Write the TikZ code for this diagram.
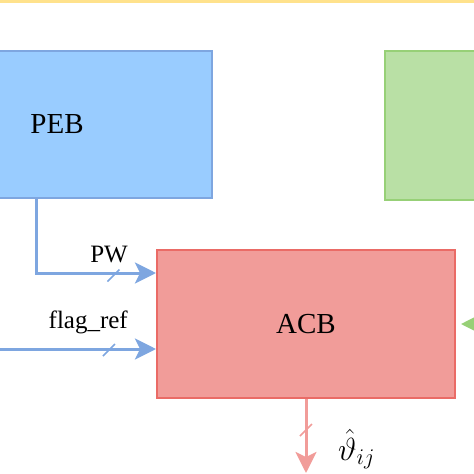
\RequirePackage{fix-cm}
\documentclass[tikz,border=0pt]{standalone}
\usepackage{fontspec}
\setmainfont{Liberation Serif}
\usetikzlibrary{positioning, arrows.meta}
\usepackage{amsmath, amssymb}
\usepackage{xcolor}
\definecolor{pebfill}{HTML}{99CCFF}
\definecolor{pebdraw}{HTML}{7EA6E0}
\definecolor{grnfill}{HTML}{B9E0A5}
\definecolor{grndraw}{HTML}{97D077}
\definecolor{acbfill}{HTML}{F19C99}
\definecolor{acbdraw}{HTML}{EA6B66}
\definecolor{framecol}{HTML}{FFE28C}
\tikzset{block/.style={draw, line width=2pt, minimum width=298pt,
           minimum height=148pt, font=\fontsize{29}{34}\selectfont},
         sig/.style={line width=3pt,
           -{Stealth[length=21pt, width=21pt, inset=5pt]}},
         lbl/.style={font=\fontsize{25}{30}\selectfont, inner sep=0pt}}
\newcommand{\sigtick}[2]{\draw[line width=1.7pt, #1]
  ([shift={(-6pt,-6pt)}]#2) -- ([shift={(6pt,6pt)}]#2);}

\begin{document}
\begin{tikzpicture}[x=1pt, y=-1pt]
        \useasboundingbox (0,0) rectangle (474,474);
        \clip (0,0) rectangle (474,474);
        \draw[framecol, line width=3pt] (-10,1.5) -- (484,1.5);

        % Nodes
        \node[block, fill=pebfill, draw=pebdraw, minimum width=310pt,
              minimum height=147pt] (PEB) at (57,124.5) {PEB};
        \node[block, fill=grnfill, draw=grndraw, minimum width=310pt,
              minimum height=149pt] (GRN) at (540,125.5) {};
        \node[block, fill=acbfill, draw=acbdraw] (ACB) at (306,324) {ACB};
        \coordinate (flagsrc) at (-5,349);
        \coordinate (grnsrc) at (485,324);
        \coordinate (thout) at (306,473);

        % Edges
        \draw[sig, pebdraw] ([xshift=135pt]PEB.south west)
              |- ([yshift=-24pt]ACB.north west);
        \draw[sig, pebdraw] (flagsrc) -- (flagsrc -| ACB.west);
        \draw[sig, grndraw, shorten >=5pt] (grnsrc) -- (ACB.east);
        \draw[sig, acbfill] (ACB.south) -- (thout);

        % Ticks
        \sigtick{pebdraw}{113.5,275.5}
        \sigtick{pebdraw}{109,350}
        \sigtick{acbfill}{306,430}

        % Labels
        \node[lbl, anchor=base east] (pwlbl) at (128,262) {PW};
        \node[lbl, anchor=base east] (flaglbl) at (128,328) {flag\_ref};
        \node[lbl, anchor=base west, font=\fontsize{32}{38}\selectfont]
              (thlbl) at (338,460) {$\hat{\vartheta}_{ij}$};
    \end{tikzpicture}
\end{document}
